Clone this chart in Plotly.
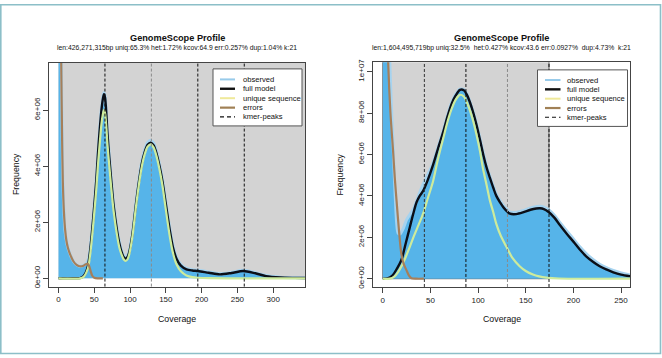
import plotly.graph_objects as go

W, H = 662, 358

# ---------------- Left profile data (values in millions) ----------------
L_title_sub = "len:426,271,315bp uniq:65.3% het:1.72% kcov:64.9 err:0.257% dup:1.04% k:21"
L_peaks = [64.9, 129.8, 194.7, 259.6]
L_peak_colors = ["#111111", "#8a8a8a", "#111111", "#111111"]

L_obs_x = [0, 1, 2, 3, 4, 5, 6, 7.5, 9, 11, 13, 15.4, 18, 21, 24.8, 29.4, 34, 38.8, 42, 44, 47, 50, 52.7, 55, 57.4, 60, 62, 63.5, 65, 67, 68.2, 71, 73.8, 77, 81.7, 85, 88, 91, 93.8, 96.5, 99, 101.5, 104, 108, 112.5, 116.5, 120.4, 124.5, 128.9, 133, 137, 141, 145.2, 150, 155.5, 160, 164.9, 171, 178.8, 187, 195, 210, 225.5, 242, 258, 275, 290, 310, 330, 345]
L_obs_y = [40, 25, 15, 10, 7.5, 5.0, 3.47, 2.4, 1.72, 1.35, 1.1, 0.91, 0.75, 0.6, 0.49, 0.43, 0.45, 0.53, 0.7, 1.0, 1.78, 2.65, 3.52, 4.45, 5.28, 6.05, 6.45, 6.62, 6.5, 5.85, 5.28, 4.35, 3.52, 2.66, 1.78, 1.3, 1.0, 0.81, 0.75, 0.81, 1.0, 1.33, 1.78, 2.66, 3.53, 4.17, 4.58, 4.84, 4.92, 4.82, 4.53, 4.08, 3.53, 2.71, 1.78, 1.16, 0.75, 0.49, 0.35, 0.31, 0.29, 0.23, 0.16, 0.21, 0.29, 0.2, 0.1, 0.04, 0.02, 0.015]

L_mod_x = [0, 20, 30, 35, 38, 41, 44, 47, 50, 52.7, 55, 57.4, 60, 62, 63.5, 65, 67, 68.2, 71, 73.8, 77, 81.7, 85, 88, 91, 93.8, 96.5, 99, 101.5, 104, 108, 112.5, 116.5, 120.4, 124.5, 128.9, 133, 137, 141, 145.2, 150, 155.5, 160, 164.9, 171, 178.8, 187, 195, 210, 225.5, 242, 258, 275, 290, 310, 330, 345]
L_mod_y = [0, 0, 0.01, 0.08, 0.2, 0.43, 0.95, 1.72, 2.6, 3.47, 4.4, 5.23, 6.0, 6.4, 6.57, 6.45, 5.8, 5.23, 4.3, 3.47, 2.6, 1.72, 1.25, 0.95, 0.76, 0.70, 0.76, 0.95, 1.28, 1.72, 2.6, 3.47, 4.1, 4.5, 4.76, 4.84, 4.74, 4.45, 4.02, 3.47, 2.65, 1.72, 1.1, 0.70, 0.45, 0.32, 0.28, 0.26, 0.2, 0.14, 0.19, 0.26, 0.18, 0.08, 0.03, 0.015, 0.01]

L_uni_x = [0, 30, 35, 41, 44, 47, 50, 52.7, 55, 57.4, 60, 62, 63.5, 65, 67, 68.2, 71, 73.8, 77, 81.7, 85, 88, 91, 93.8, 96.5, 99, 101.5, 104, 108, 112.5, 116.5, 120.4, 124.5, 128.9, 133, 137, 141, 145.2, 150, 155.5, 160, 164.9, 171, 178.8, 187, 195, 210, 240, 345]
L_uni_y = [0, 0, 0.05, 0.35, 0.8, 1.5, 2.35, 3.15, 4.0, 4.75, 5.5, 5.85, 6.0, 5.9, 5.35, 4.85, 4.0, 3.2, 2.4, 1.55, 1.1, 0.85, 0.68, 0.62, 0.68, 0.87, 1.2, 1.62, 2.5, 3.37, 4.0, 4.42, 4.7, 4.78, 4.66, 4.35, 3.9, 3.32, 2.45, 1.5, 0.9, 0.5, 0.25, 0.1, 0.04, 0.02, 0.005, 0, 0]

L_err_x = [0, 1, 2, 3, 3.8, 5, 6, 7.5, 9.3, 11, 13, 15.4, 18, 21, 24.8, 29.4, 34, 38, 41, 43, 45, 47, 50, 55, 62]
L_err_y = [40, 25, 15, 10, 7.7, 5.0, 3.47, 2.4, 1.72, 1.35, 1.1, 0.91, 0.75, 0.6, 0.49, 0.43, 0.44, 0.5, 0.52, 0.42, 0.25, 0.1, 0.02, 0, 0]

L_xticks = [0, 50, 100, 150, 200, 250, 300]
L_yticks = [0, 2, 4, 6]
L_ytick_text = ["0e+00", "2e+06", "4e+06", "6e+06"]
L_bg_xmax = 400

# ---------------- Right profile data (values in millions) ----------------
R_title_sub = "len:1,604,495,719bp uniq:32.5%  het:0.427% kcov:43.6 err:0.0927%  dup:4.73%  k:21"
R_peaks = [43.6, 87.2, 130.8, 174.4]
R_peak_colors = ["#333333", "#111111", "#8a8a8a", "#111111"]

R_obs_x = [0, 2, 4, 6, 8, 10, 11.5, 13, 14.5, 16, 18, 21.4, 25, 28.4, 31.9, 35.4, 39, 42.3, 47, 52.8, 58, 63.4, 68, 72.2, 76.5, 80.9, 85, 88, 91.4, 95, 98.4, 102, 105.4, 109, 112.4, 116, 119.1, 123, 127, 133.4, 140, 147, 155, 161, 164.9, 169, 174, 180, 186, 193, 200, 206.5, 213.7, 220.5, 227.6, 234.5, 241.9, 250, 259.5]
R_obs_y = [40, 25, 17, 12.5, 9.5, 7.2, 5.6, 4.0, 2.7, 2.2, 2.15, 2.42, 2.85, 3.1, 3.35, 3.75, 4.2, 4.56, 5.0, 5.6, 6.35, 7.15, 7.9, 8.5, 8.9, 9.15, 9.13, 8.93, 8.55, 8.03, 7.45, 6.75, 6.05, 5.42, 4.93, 4.45, 4.07, 3.76, 3.5, 3.22, 3.2, 3.28, 3.42, 3.48, 3.5, 3.46, 3.33, 3.06, 2.7, 2.3, 1.92, 1.55, 1.2, 0.93, 0.7, 0.54, 0.4, 0.28, 0.18]

R_mod_x = [0, 5, 10, 15, 19.6, 24, 28.4, 32, 35.4, 39, 42.3, 47, 52.8, 58, 63.4, 68, 72.2, 76.5, 80.9, 85, 88, 91.4, 95, 98.4, 102, 105.4, 109, 112.4, 116, 119.1, 123, 127, 133.4, 140, 147, 155, 161, 164.9, 169, 174, 180, 186, 193, 200, 206.5, 213.7, 220.5, 227.6, 234.5, 241.9, 250, 259.5]
R_mod_y = [0, 0.02, 0.15, 0.5, 0.92, 1.7, 2.5, 3.15, 3.69, 4.02, 4.24, 4.75, 5.51, 6.3, 7.09, 7.85, 8.44, 8.85, 9.12, 9.1, 8.9, 8.52, 8.0, 7.41, 6.7, 5.99, 5.35, 4.87, 4.38, 4.0, 3.69, 3.42, 3.14, 3.12, 3.2, 3.33, 3.39, 3.4, 3.36, 3.22, 2.95, 2.58, 2.17, 1.79, 1.42, 1.07, 0.82, 0.6, 0.45, 0.31, 0.2, 0.12]

R_uni_x = [0, 7.3, 12, 16, 19.6, 24, 28.4, 33, 37.5, 42.3, 47, 52.8, 58, 63.4, 68, 72.2, 76.5, 80.9, 85, 89.6, 94, 98.4, 102, 105, 109, 112.4, 116, 119, 124, 129.6, 136, 143.6, 150, 157.5, 164, 171.6, 185, 259.5]
R_uni_y = [0, 0, 0.1, 0.32, 0.6, 1.05, 1.55, 2.1, 2.6, 3.14, 3.85, 4.72, 5.8, 6.78, 7.6, 8.2, 8.65, 8.88, 8.8, 8.36, 7.75, 6.94, 6.15, 5.35, 4.5, 3.77, 3.2, 2.66, 2.05, 1.55, 1.0, 0.6, 0.37, 0.2, 0.11, 0.05, 0.01, 0]

R_err_x = [0, 2, 4, 5.6, 8, 10.8, 12.5, 14.4, 17, 19.6, 22, 24.9, 27.5, 30.1, 35, 43]
R_err_y = [40, 22, 14, 10.5, 8.0, 6.14, 4.9, 3.77, 2.3, 1.15, 0.7, 0.4, 0.15, 0.02, 0, 0]

R_xticks = [0, 50, 100, 150, 200, 250]
R_yticks = [0, 2, 4, 6, 8, 10]
R_ytick_text = ["0e+00", "2e+06", "4e+06", "6e+06", "8e+06", "1e+07"]
R_bg_xmax = 174.4

TITLE = "GenomeScope Profile"
LEGEND_LABELS = ["observed", "full model", "unique sequence", "errors", "kmer-peaks"]

# ---------------- styling ----------------
C_HIST = "#56B4E9"
C_HIST_EDGE = "#a6d3ef"
C_MODEL = "#0b0f18"
C_UNIQUE = "#cdeb9c"
C_ERR = "#a67f5a"
C_BG = "#d3d3d3"
FONT = "Liberation Sans, Arial, sans-serif"

def px_x(p):
    return p / W

def px_y(p):
    return 1 - p / H

M = 1e6

fig = go.Figure()

panels = [
    dict(ax="x", ay="y", obs=(L_obs_x, L_obs_y), mod=(L_mod_x, L_mod_y), uni=(L_uni_x, L_uni_y),
         err=(L_err_x, L_err_y)),
    dict(ax="x2", ay="y2", obs=(R_obs_x, R_obs_y), mod=(R_mod_x, R_mod_y), uni=(R_uni_x, R_uni_y),
         err=(R_err_x, R_err_y)),
]

for p in panels:
    ox, oy = p["obs"]
    fig.add_trace(go.Scatter(x=ox, y=[v * M for v in oy], mode="lines", fill="tozeroy",
                             fillcolor=C_HIST, line=dict(color=C_HIST_EDGE, width=3, shape="spline", smoothing=0.8),
                             xaxis=p["ax"], yaxis=p["ay"], showlegend=False, hoverinfo="skip"))
    mx, my = p["mod"]
    fig.add_trace(go.Scatter(x=mx, y=[v * M for v in my], mode="lines",
                             line=dict(color=C_MODEL, width=2.4, shape="spline", smoothing=0.8),
                             xaxis=p["ax"], yaxis=p["ay"], showlegend=False, hoverinfo="skip"))
    ux, uy = p["uni"]
    fig.add_trace(go.Scatter(x=ux, y=[v * M for v in uy], mode="lines",
                             line=dict(color=C_UNIQUE, width=2.2, shape="spline", smoothing=0.8),
                             xaxis=p["ax"], yaxis=p["ay"], showlegend=False, hoverinfo="skip"))
    ex, ey = p["err"]
    fig.add_trace(go.Scatter(x=ex, y=[v * M for v in ey], mode="lines",
                             line=dict(color=C_ERR, width=2.2, shape="spline", smoothing=0.8),
                             xaxis=p["ax"], yaxis=p["ay"], showlegend=False, hoverinfo="skip"))

shapes = []
# grey backgrounds
shapes.append(dict(type="rect", xref="x", yref="y", x0=0, x1=L_bg_xmax, y0=0, y1=20 * M,
                   fillcolor=C_BG, line=dict(width=0), layer="below"))
shapes.append(dict(type="rect", xref="x2", yref="y2", x0=0, x1=R_bg_xmax, y0=0, y1=20 * M,
                   fillcolor=C_BG, line=dict(color="#555555", width=1), layer="below"))
# kmer peak lines
for v, c in zip(L_peaks, L_peak_colors):
    shapes.append(dict(type="line", xref="x", yref="y domain", x0=v, x1=v, y0=0, y1=1,
                       line=dict(color=c, width=1, dash="3px,2px")))
for v, c in zip(R_peaks, R_peak_colors):
    shapes.append(dict(type="line", xref="x2", yref="y2 domain", x0=v, x1=v, y0=0, y1=1,
                       line=dict(color=c, width=1, dash="3px,2px")))

annotations = []

def add_legend(x0, x1, y0, y1, line_x0, line_x1, text_x, ys):
    shapes.append(dict(type="rect", xref="paper", yref="paper", x0=px_x(x0), x1=px_x(x1),
                       y0=px_y(y1), y1=px_y(y0), fillcolor="white", line=dict(color="#555555", width=1)))
    styles = [dict(color="#98cbea", width=2), dict(color="#111111", width=2.4),
              dict(color="#efe99a", width=2), dict(color="#a08055", width=2.2),
              dict(color="#111111", width=1.2, dash="4px,3px")]
    for lab, yy, st in zip(LEGEND_LABELS, ys, styles):
        shapes.append(dict(type="line", xref="paper", yref="paper", x0=px_x(line_x0), x1=px_x(line_x1),
                           y0=px_y(yy), y1=px_y(yy), line=st))
        annotations.append(dict(text=lab, xref="paper", yref="paper", x=px_x(text_x), y=px_y(yy),
                                xanchor="left", yanchor="middle", showarrow=False,
                                font=dict(family=FONT, size=7.6, color="#111111")))

add_legend(213, 302, 66, 124, 220, 235, 240.5, [76.7, 86.2, 95.8, 105.4, 114.8])
add_legend(537.5, 627.5, 67, 124.5, 545, 560.5, 565, [77.3, 86.8, 96.3, 105.8, 115.2])

# titles
for cx, sub in [(177, L_title_sub), (501, R_title_sub)]:
    annotations.append(dict(text="<b>" + TITLE + "</b>", xref="paper", yref="paper", x=px_x(cx), y=px_y(34.5),
                            xanchor="center", yanchor="middle", showarrow=False,
                            font=dict(family=FONT, size=9.2, color="#111111")))
    annotations.append(dict(text=sub, xref="paper", yref="paper", x=px_x(cx), y=px_y(44.3),
                            xanchor="center", yanchor="middle", showarrow=False,
                            font=dict(family=FONT, size=6.8, color="#111111")))
# axis titles
for cx in [177, 501.5]:
    annotations.append(dict(text="Coverage", xref="paper", yref="paper", x=px_x(cx), y=px_y(320.5),
                            xanchor="center", yanchor="middle", showarrow=False,
                            font=dict(family=FONT, size=8.8, color="#111111")))
for cx in [15.5, 340]:
    annotations.append(dict(text="Frequency", xref="paper", yref="paper", x=px_x(cx), y=px_y(173.5),
                            xanchor="center", yanchor="middle", showarrow=False, textangle=-90,
                            font=dict(family=FONT, size=8.8, color="#111111")))

# outer teal frame
shapes.append(dict(type="rect", xref="paper", yref="paper", x0=px_x(0.8), x1=px_x(660.5),
                   y0=px_y(355.5), y1=px_y(0.8), line=dict(color="#8cbfc8", width=1.6)))

axis_common = dict(showgrid=False, zeroline=False, showline=True, mirror=True, linecolor="#444444",
                   linewidth=1, ticks="outside", ticklen=5, tickcolor="#444444", tickwidth=1,
                   tickfont=dict(family=FONT, size=8, color="#222222"), fixedrange=True)

fig.update_layout(
    width=W, height=H, margin=dict(l=0, r=0, t=0, b=0),
    paper_bgcolor="white", plot_bgcolor="white", showlegend=False,
    xaxis=dict(domain=[px_x(49), px_x(305)], range=[-13.3, 344.5], tickvals=L_xticks, anchor="y", **axis_common),
    yaxis=dict(domain=[px_y(287.4), px_y(60)], range=[-0.295 * M, 7.68 * M], tickvals=[v * M for v in L_yticks],
               ticktext=L_ytick_text, tickangle=-90, anchor="x", **axis_common),
    xaxis2=dict(domain=[px_x(373.3), px_x(630)], range=[-10, 259.4], tickvals=R_xticks, anchor="y2", **axis_common),
    yaxis2=dict(domain=[px_y(287.8), px_y(59.3)], range=[-0.4 * M, 10.45 * M], tickvals=[v * M for v in R_yticks],
                ticktext=R_ytick_text, tickangle=-90, anchor="x2", **axis_common),
    shapes=shapes, annotations=annotations,
)

fig.write_html("out.html", config={"displayModeBar": False},
               post_script="document.body.style.margin='0';document.body.style.padding='0';")
